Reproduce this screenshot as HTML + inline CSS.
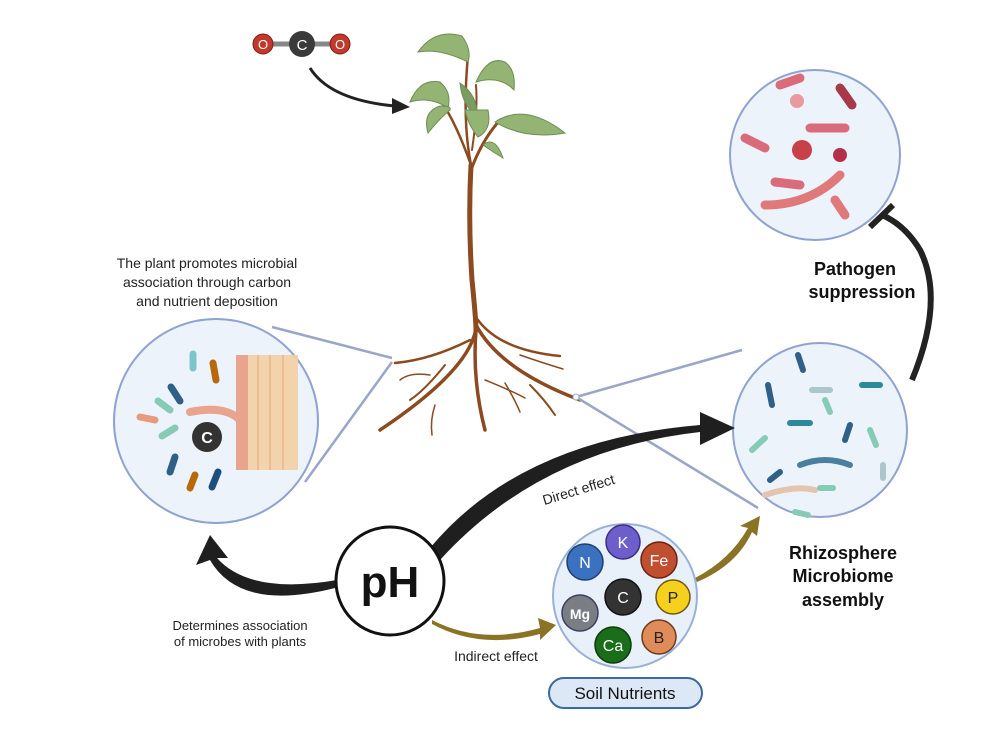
<!DOCTYPE html>
<html><head><meta charset="utf-8"><style>
html,body{margin:0;padding:0;background:#fff}
svg{display:block}
text{font-family:"Liberation Sans",sans-serif}
</style></head><body>
<svg width="1000" height="749" viewBox="0 0 1000 749" xmlns="http://www.w3.org/2000/svg">
<!-- CO2 -->
<line x1="263" y1="44" x2="340" y2="44" stroke="#888" stroke-width="5"/>
<circle cx="263" cy="44" r="10" fill="#c0392b" stroke="#7a1f16"/><text x="263" y="49" font-size="13" fill="#fff" text-anchor="middle">O</text>
<circle cx="302" cy="44" r="13" fill="#3a3a3a"/><text x="302" y="50" font-size="15" fill="#fff" text-anchor="middle">C</text>
<circle cx="340" cy="44" r="10" fill="#c0392b" stroke="#7a1f16"/><text x="340" y="49" font-size="13" fill="#fff" text-anchor="middle">O</text>
<path d="M310,68 Q330,100 395,106" fill="none" stroke="#222" stroke-width="3"/>
<path d="M392,98 L410,107 L392,114 Z" fill="#222"/>
<!-- plant stems -->
<g stroke="#8b4a1f" fill="none" stroke-linecap="round">
<path d="M471,165 Q468,220 472,280 Q476,320 476,330" stroke-width="5"/>
<path d="M471,165 Q462,120 468,55" stroke-width="2.5"/>
<path d="M471,165 Q455,120 440,100" stroke-width="2.5"/>
<path d="M471,170 Q482,140 500,120" stroke-width="3"/>
<path d="M472,150 Q478,110 476,85" stroke-width="2"/>
<path d="M476,328 Q470,370 380,430" stroke-width="3.5"/>
<path d="M470,340 Q430,360 395,363" stroke-width="2.5"/>
<path d="M476,330 Q472,380 485,430" stroke-width="3.5"/>
<path d="M476,325 Q500,370 580,400" stroke-width="3.5"/>
<path d="M478,320 Q500,350 560,356" stroke-width="2.5"/>
<path d="M445,365 Q425,390 410,400" stroke-width="2"/>
<path d="M430,375 Q410,372 400,380" stroke-width="1.5"/>
<path d="M485,380 Q510,390 525,398" stroke-width="1.5"/>
<path d="M530,385 Q545,400 555,415" stroke-width="2"/>
<path d="M520,355 Q540,362 563,369" stroke-width="1.5"/>
<path d="M435,405 Q430,420 432,435" stroke-width="1.5"/>
<path d="M505,383 Q515,400 520,412" stroke-width="1.5"/>
</g>
<g fill="#93b473" stroke="#6f8d55" stroke-width="1">
<path d="M418,52 Q435,28 462,36 Q472,50 468,62 Q440,48 418,52 Z"/>
<path d="M476,82 Q488,55 505,62 Q516,70 514,90 Q500,75 476,82 Z"/>
<path d="M410,102 Q420,78 440,82 Q452,92 448,108 Q430,96 410,102 Z"/>
<path d="M428,133 Q422,112 440,106 Q452,106 450,110 Q440,118 428,133 Z"/>
<path d="M460,83 Q478,95 477,117 Q462,105 460,83 Z" fill="#7a9e62"/>
<path d="M465,110 L488,110 Q492,130 478,137 Q468,125 465,110 Z"/>
<path d="M495,122 Q525,102 565,133 Q525,140 495,122 Z"/>
<path d="M483,145 Q495,135 503,158 Q490,150 483,145 Z"/>
</g>
<!-- zoom lines -->
<g stroke="#9aa5c8" stroke-width="2.5">
<line x1="392" y1="358" x2="272" y2="327"/>
<line x1="392" y1="362" x2="305" y2="482"/>
<line x1="576" y1="397" x2="742" y2="350"/>
<line x1="576" y1="397" x2="758" y2="508"/>
</g>
<circle cx="576" cy="397" r="3" fill="#fff" stroke="#9aa5c8"/>
<!-- left circle -->
<circle cx="216" cy="421" r="102" fill="#edf3fb" stroke="#8fa3d2" stroke-width="2"/>
<g>
<rect x="236" y="355" width="62" height="115" fill="#f3cfa3" opacity="0.9"/>
<rect x="236" y="355" width="12" height="115" fill="#e8a48c"/>
<g stroke="#e0a77a" fill="none"><line x1="258" y1="355" x2="258" y2="470"/><line x1="270" y1="355" x2="270" y2="470"/><line x1="283" y1="355" x2="283" y2="470"/></g>
<path d="M190,412 Q225,405 240,420" stroke="#e8a48c" stroke-width="8" fill="none" stroke-linecap="round"/>
<circle cx="207" cy="437" r="15" fill="#333"/><text x="207" y="443" font-size="16" font-weight="bold" fill="#fff" text-anchor="middle">C</text>
<g stroke-width="7" stroke-linecap="round">
<line x1="193" y1="354" x2="193" y2="368" stroke="#7ec4cc"/>
<line x1="213" y1="363" x2="216" y2="380" stroke="#b86a0a"/>
<line x1="171" y1="387" x2="180" y2="401" stroke="#2f6087"/>
<line x1="158" y1="401" x2="170" y2="410" stroke="#86cbb6"/>
<line x1="140" y1="417" x2="155" y2="420" stroke="#e89a7c"/>
<line x1="162" y1="436" x2="175" y2="428" stroke="#86cbb6"/>
<line x1="175" y1="457" x2="170" y2="472" stroke="#2f6087"/>
<line x1="195" y1="475" x2="190" y2="488" stroke="#b86a0a"/>
<line x1="218" y1="472" x2="212" y2="487" stroke="#1c4f7a"/>
</g>
</g>
<!-- top right circle -->
<circle cx="815" cy="155" r="85" fill="#edf3fb" stroke="#8fa3d2" stroke-width="2"/>
<g stroke-linecap="round" stroke-width="9">
<line x1="780" y1="85" x2="800" y2="78" stroke="#d96b7a"/>
<line x1="840" y1="88" x2="852" y2="105" stroke="#a63a4a"/>
<line x1="745" y1="138" x2="765" y2="148" stroke="#d96b7a"/>
<line x1="810" y1="128" x2="845" y2="128" stroke="#d96b7a"/>
<line x1="775" y1="182" x2="800" y2="185" stroke="#d96b7a"/>
<path d="M765,205 Q810,205 840,175" stroke="#e07a7a" fill="none"/>
<line x1="835" y1="200" x2="845" y2="215" stroke="#e07a7a"/>
</g>
<circle cx="797" cy="101" r="7" fill="#e89aa0"/><circle cx="802" cy="150" r="10" fill="#c8414a"/><circle cx="840" cy="155" r="7" fill="#b3304a"/>
<!-- right circle -->
<circle cx="820" cy="430" r="87" fill="#edf3fb" stroke="#8fa3d2" stroke-width="2"/>
<g stroke-linecap="round" stroke-width="6">
<line x1="798" y1="355" x2="803" y2="370" stroke="#2f6087"/>
<line x1="768" y1="385" x2="772" y2="405" stroke="#2f6087"/>
<line x1="812" y1="390" x2="830" y2="390" stroke="#aac8cc"/>
<line x1="862" y1="385" x2="880" y2="385" stroke="#2d8a9a"/>
<line x1="825" y1="400" x2="830" y2="412" stroke="#86cbb6"/>
<line x1="790" y1="423" x2="810" y2="423" stroke="#2d8a9a"/>
<line x1="850" y1="425" x2="845" y2="440" stroke="#2f6087"/>
<line x1="870" y1="430" x2="876" y2="445" stroke="#86cbb6"/>
<line x1="752" y1="450" x2="765" y2="438" stroke="#86cbb6"/>
<path d="M800,465 Q825,455 850,465" stroke="#4a7fa0" fill="none"/>
<line x1="770" y1="480" x2="780" y2="472" stroke="#2f6087"/>
<path d="M765,495 Q795,485 815,490" stroke="#e3c4ae" fill="none"/>
<line x1="820" y1="488" x2="833" y2="488" stroke="#86cbb6"/>
<line x1="883" y1="465" x2="883" y2="478" stroke="#aac8cc"/>
<line x1="795" y1="512" x2="808" y2="515" stroke="#86cbb6"/>
</g>
<!-- inhibition arc -->
<path d="M912,380 Q945,300 920,250 Q905,225 882,215" fill="none" stroke="#222" stroke-width="6"/>
<line x1="870" y1="227" x2="893" y2="205" stroke="#222" stroke-width="6"/>
<!-- text -->
<text font-size="14" fill="#222" text-anchor="middle"><tspan x="207" y="268">The plant promotes microbial</tspan><tspan x="207" y="287">association through carbon</tspan><tspan x="207" y="306">and nutrient deposition</tspan></text>
<text font-size="18" font-weight="bold" fill="#111" text-anchor="middle"><tspan x="855" y="275">Pathogen</tspan><tspan x="862" y="298">suppression</tspan></text>
<text font-size="18" font-weight="bold" fill="#111" text-anchor="middle"><tspan x="843" y="559">Rhizosphere</tspan><tspan x="843" y="582">Microbiome</tspan><tspan x="843" y="606">assembly</tspan></text>
<text font-size="13" fill="#222" text-anchor="middle"><tspan x="240" y="630">Determines association</tspan><tspan x="240" y="646">of microbes with plants</tspan></text>
<text x="496" y="661" font-size="14" fill="#222" text-anchor="middle">Indirect effect</text>
<text x="575" y="495" font-size="14" fill="#222" text-anchor="middle" transform="rotate(-17 575 478)">Direct effect</text>
<!-- arrows -->
<path d="M430,548 Q520,440 700,425 L700,412 L735,428 L700,445 L700,432 Q540,450 440,560 Z" fill="#1f1f1f"/>
<path d="M335,588 Q240,612 210,560 L196,565 L210,535 L228,558 L217,558 Q250,595 337,580 Z" fill="#1f1f1f"/>
<path d="M432,620 Q480,645 540,628 L538,618 L556,625 L540,640 L540,634 Q480,650 432,624 Z" fill="#8a7324"/>
<path d="M695,578 Q730,560 748,528 L740,526 L760,516 L757,536 L752,532 Q737,565 697,582 Z" fill="#8a7324"/>
<!-- pH -->
<circle cx="390" cy="581" r="54" fill="#fff" stroke="#111" stroke-width="3"/>
<text x="390" y="597" font-size="44" font-weight="bold" fill="#111" text-anchor="middle">pH</text>
<!-- nutrients -->
<circle cx="625" cy="596" r="72" fill="#e8f0fa" stroke="#9ab0d8" stroke-width="2"/>
<g font-size="16" text-anchor="middle" stroke-width="1.5">
<circle cx="623" cy="542" r="17" fill="#6e5ecb" stroke="#3b2f80"/><text x="623" y="548" fill="#fff">K</text>
<circle cx="585" cy="562" r="18" fill="#3a72c0" stroke="#1f3f70"/><text x="585" y="568" fill="#fff">N</text>
<circle cx="659" cy="560" r="18" fill="#c04e30" stroke="#6b2414"/><text x="659" y="566" fill="#fff">Fe</text>
<circle cx="623" cy="597" r="18" fill="#333" stroke="#111"/><text x="623" y="603" fill="#fff">C</text>
<circle cx="673" cy="597" r="17" fill="#f5d01c" stroke="#6b5a10"/><text x="673" y="603" fill="#222">P</text>
<circle cx="580" cy="613" r="18" fill="#7a7e84" stroke="#3b3f60"/><text x="580" y="619" fill="#fff" font-weight="bold" font-size="14">Mg</text>
<circle cx="613" cy="645" r="18" fill="#1a6e1a" stroke="#0d3b0d"/><text x="613" y="651" fill="#fff">Ca</text>
<circle cx="659" cy="637" r="17" fill="#e08c5a" stroke="#6b3a1a"/><text x="659" y="643" fill="#222">B</text>
</g>
<rect x="549" y="678" width="153" height="30" rx="15" fill="#dde8f6" stroke="#3a6aa0" stroke-width="2"/>
<text x="625" y="699" font-size="17" fill="#111" text-anchor="middle">Soil Nutrients</text>
</svg>
</body></html>
